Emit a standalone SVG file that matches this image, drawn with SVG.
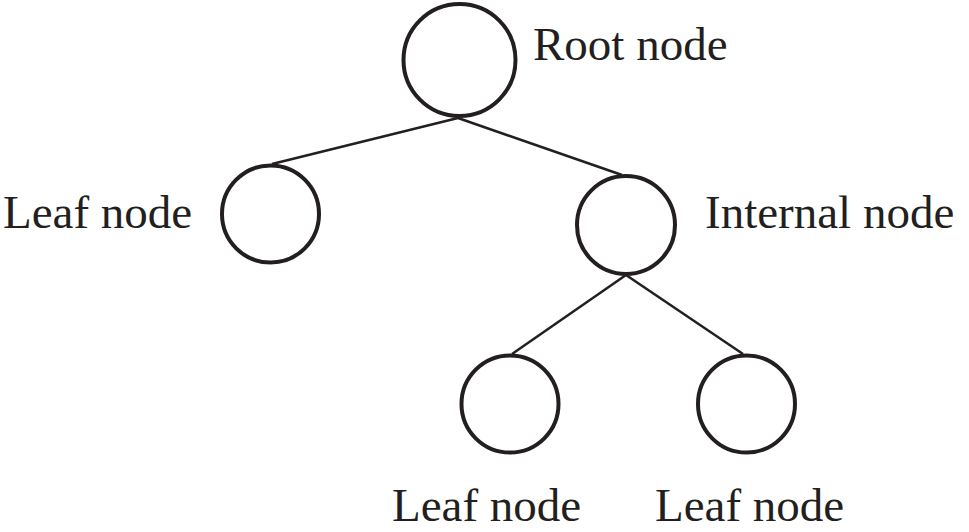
<svg xmlns="http://www.w3.org/2000/svg" width="969" height="532" viewBox="0 0 969 532">
<style>
.node{fill:#fff;stroke:#231f20;stroke-width:4}
.edge{stroke:#231f20;stroke-width:2.5;fill:none}
.lbl{font-family:"Liberation Serif","Times New Roman",serif;font-size:47px;fill:#231f20}
</style>
<rect width="969" height="532" fill="#fff"/>
<g id="connectors">
<line class="edge" x1="458" y1="118" x2="272" y2="164"/>
<line class="edge" x1="458" y1="118" x2="622" y2="175"/>
<line class="edge" x1="626" y1="275" x2="512" y2="354"/>
<line class="edge" x1="626" y1="275" x2="743" y2="354"/>
</g>
<g id="root">
<circle class="node" cx="459.5" cy="60" r="56"/>
<text class="lbl" x="533" y="60">Root node</text>
</g>
<g id="leaf1">
<circle class="node" cx="270.5" cy="214" r="48.5"/>
<text class="lbl" x="3" y="228">Leaf node</text>
</g>
<g id="internal">
<circle class="node" cx="626" cy="225" r="49"/>
<text class="lbl" x="705" y="228">Internal node</text>
</g>
<g id="leaf2">
<circle class="node" cx="510" cy="404" r="48.5"/>
<text class="lbl" x="392" y="521">Leaf node</text>
</g>
<g id="leaf3">
<circle class="node" cx="746.5" cy="404" r="48.5"/>
<text class="lbl" x="655" y="521">Leaf node</text>
</g>
</svg>
